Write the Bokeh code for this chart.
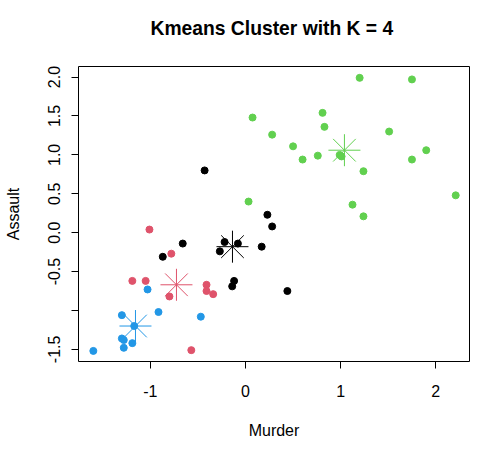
from bokeh.plotting import figure
from bokeh.models import Range1d, FixedTicker, Title
from bokeh.embed import file_html
from bokeh.resources import INLINE

# cluster 1 (black)
c1_x = [-0.43, 0.23, -0.66, -0.87, -0.22, -0.08, -0.27, 0.17, -0.12, -0.14, 0.28, 0.44]
c1_y = [0.80, 0.23, -0.14, -0.31, -0.12, -0.14, -0.24, -0.18, -0.62, -0.69, 0.08, -0.75]
# cluster 2 (red)
c2_x = [-1.01, -0.78, -1.19, -1.05, -0.41, -0.41, -0.34, -0.80, -0.57]
c2_y = [0.04, -0.27, -0.62, -0.62, -0.67, -0.75, -0.79, -0.82, -1.51]
# cluster 3 (green)
c3_x = [1.20, 1.75, 0.074, 0.81, 0.83, 0.28, 1.51, 0.50, 0.60, 0.76, 0.99, 1.01, 1.75, 1.90, 1.24, 2.21, 1.125, 1.24, 0.032]
c3_y = [1.99, 1.97, 1.48, 1.54, 1.36, 1.26, 1.30, 1.11, 0.94, 0.99, 1.00, 0.98, 0.94, 1.06, 0.79, 0.48, 0.36, 0.21, 0.40]
# cluster 4 (blue)
c4_x = [-1.03, -0.915, -0.47, -1.30, -1.17, -1.30, -1.28, -1.19, -1.28, -1.60]
c4_y = [-0.73, -1.02, -1.08, -1.06, -1.20, -1.36, -1.38, -1.42, -1.48, -1.52]

centers_x = [-0.137, -0.726, 1.04, -1.157]
centers_y = [-0.18, -0.67, 1.06, -1.20]
colors = ["#000000", "#DF536B", "#61D04F", "#2297E6"]

x_ticks = [-1, 0, 1, 2]
x_labels = ["-1", "0", "1", "2"]
y_ticks = [-1.5, -1.0, -0.5, 0.0, 0.5, 1.0, 1.5, 2.0]
y_labels = ["-1.5", "", "-0.5", "0.0", "0.5", "1.0", "1.5", "2.0"]
title_text = "Kmeans Cluster with K = 4"

FONT = "Liberation Sans"

p = figure(width=476, height=445, output_backend="svg", toolbar_location=None, title=None,
           x_range=Range1d(-1.756, 2.355), y_range=Range1d(-1.656, 2.136),
           min_border_left=78, min_border_right=7, min_border_top=66, min_border_bottom=84)
p.background_fill_color = "white"
p.border_fill_color = "white"
p.outline_line_color = "black"
p.outline_line_width = 1
p.grid.visible = False

# spacer between the plot box and the title
p.add_layout(Title(text=" ", text_font=FONT, text_font_size="16px", standoff=9), "above")
p.add_layout(Title(text=title_text, text_font=FONT, text_font_size="19.3px",
                   text_font_style="bold", align="left", offset=72, standoff=0,
                   text_color="black"), "above")

for ax in (p.xaxis[0], p.yaxis[0]):
    ax.axis_line_color = None
    ax.major_tick_in = 0
    ax.major_tick_out = 7
    ax.major_tick_line_color = "black"
    ax.minor_tick_line_color = None
    ax.major_label_text_font = FONT
    ax.major_label_text_font_size = "16px"
    ax.major_label_text_color = "black"
    ax.axis_label_text_font = FONT
    ax.axis_label_text_font_size = "16px"
    ax.axis_label_text_font_style = "normal"
    ax.axis_label_text_color = "black"

p.xaxis.ticker = FixedTicker(ticks=x_ticks)
p.xaxis.major_label_overrides = {t: l for t, l in zip(x_ticks, x_labels)}
p.xaxis.axis_label = "Murder"
p.xaxis.major_label_standoff = 16
p.xaxis.axis_label_standoff = 22

p.yaxis.ticker = FixedTicker(ticks=y_ticks)
p.yaxis.major_label_overrides = {t: l for t, l in zip(y_ticks, y_labels)}
p.yaxis.major_label_orientation = "vertical"
p.yaxis.axis_label = "Assault"
p.yaxis.major_label_standoff = 11
p.yaxis.axis_label_standoff = 24

for xs, ys, c in zip([c1_x, c2_x, c3_x, c4_x], [c1_y, c2_y, c3_y, c4_y], colors):
    p.scatter(xs, ys, size=7, marker="circle", fill_color=c, line_color=c)

p.scatter(centers_x, centers_y, size=32, marker="asterisk", line_color=colors, line_width=1)

open("out.html", "w").write(file_html(p, INLINE))
